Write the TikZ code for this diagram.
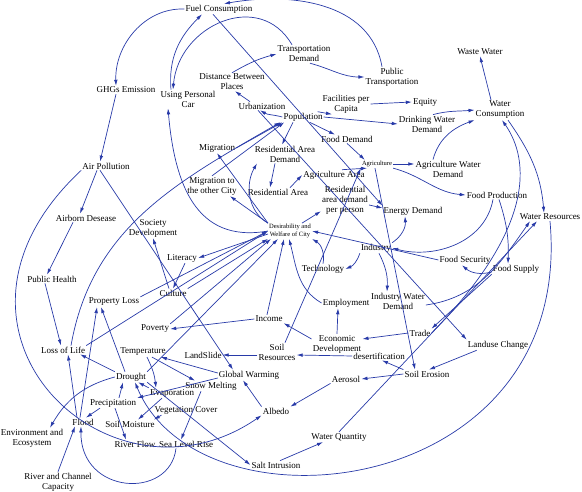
\documentclass[tikz,border=0pt]{standalone}
\usepackage{fontspec}
\setmainfont{Liberation Serif}
\usepackage{tikz}
\usetikzlibrary{arrows.meta,positioning,calc}
\definecolor{linkblue}{RGB}{40,58,168}
\tikzset{
    factor/.style={inner sep=1pt, align=center, font=\fontsize{9}{10}\selectfont},
    smallfactor/.style={inner sep=1pt, align=center, font=\fontsize{6.5}{7.5}\selectfont},
    causal/.style={-{Latex[length=6pt, width=3.6pt]}, draw=linkblue, line width=0.7pt}
}

\begin{document}
\begin{tikzpicture}[x=1pt, y=1pt]
\useasboundingbox (0,0) rectangle (582,-492);

\node[factor] (fuel) at (219,-9) {Fuel Consumption};
\node[factor] (transdem) at (304,-54) {Transportation\\Demand};
\node[factor] (pubtrans) at (392,-77) {Public\\Transportation};
\node[factor] (distance) at (232,-82) {Distance Between\\Places};
\node[factor] (ghg) at (126,-90) {GHGs Emission};
\node[factor] (car) at (188,-99) {Using Personal\\Car};
\node[factor] (urban) at (262,-106) {Urbanization};
\node[factor] (pop) at (303,-117) {Population};
\node[factor] (migr) at (217,-148) {Migration};
\node[factor] (resdem) at (285,-154) {Residential Area\\Demand};
\node[factor] (waste) at (480,-52) {Waste Water};
\node[factor] (facil) at (346,-104) {Facilities per\\Capita};
\node[factor] (equity) at (425,-102) {Equity};
\node[factor] (watcons) at (500,-110) {Water\\Consumption};
\node[factor] (drink) at (427,-124) {Drinking Water\\Demand};
\node[factor] (fooddem) at (347,-139) {Food Demand};
\node[smallfactor] (agri) at (377,-164) {Agriculture};
\node[factor] (agriwat) at (448,-169) {Agriculture Water\\Demand};
\node[factor] (airpol) at (106,-166) {Air Pollution};
\node[factor] (migrcity) at (212,-186) {Migration to\\the other City};
\node[factor] (resarea) at (278,-192) {Residential Area};
\node[factor] (agriarea) at (334,-175) {Agriculture Area};
\node[factor] (resperson) at (345,-200) {Residential\\area demand\\per person};
\node[factor] (energy) at (413,-211) {Energy Demand};
\node[factor] (foodprod) at (497,-195) {Food Production};
\node[factor] (watres) at (550,-217) {Water Resources};
\node[factor] (airborn) at (86,-218) {Airborn Desease};
\node[factor] (society) at (153,-228) {Society\\Development};
\node[smallfactor] (desire) at (290,-231) {Desirability and\\Welfare of City};
\node[factor] (industry) at (376,-248) {Industry};
\node[factor] (foodsec) at (465,-260) {Food Security};
\node[factor] (foodsup) at (516,-269) {Food Supply};
\node[factor] (literacy) at (182,-258) {Literacy};
\node[factor] (tech) at (323,-269) {Technology};
\node[factor] (health) at (52,-279) {Public Health};
\node[factor] (culture) at (173,-293) {Culture};
\node[factor] (proploss) at (114,-302) {Property Loss};
\node[factor] (employ) at (346,-303) {Employment};
\node[factor] (indwat) at (398,-301) {Industry Water\\Demand};
\node[factor] (income) at (269,-319) {Income};
\node[factor] (trade) at (420,-333) {Trade};
\node[factor] (poverty) at (155,-329) {Poverty};
\node[factor] (econ) at (337,-344) {Economic\\Development};
\node[factor] (landuse) at (498,-345) {Landuse Change};
\node[factor] (lossoflife) at (63,-350) {Loss of Life};
\node[factor] (temp) at (143,-352) {Temperature};
\node[factor] (landslide) at (203,-355) {LandSlide};
\node[factor] (soilres) at (277,-352) {Soil\\Resources};
\node[factor] (desert) at (379,-356) {desertification};
\node[factor] (erosion) at (427,-374) {Soil Erosion};
\node[factor] (drought) at (131,-377) {Drought};
\node[factor] (warming) at (249,-375) {Global Warming};
\node[factor] (snow) at (211,-386) {Snow Melting};
\node[factor] (aerosol) at (346,-379) {Aerosol};
\node[factor] (evap) at (172,-393) {Evaporation};
\node[factor] (precip) at (113,-403) {Precipitation};
\node[factor] (veg) at (186,-410) {Vegetation Cover};
\node[factor] (albedo) at (276,-411) {Albedo};
\node[factor] (flood) at (83,-422) {Flood};
\node[factor] (soilmoist) at (130,-424) {Soil Moisture};
\node[factor] (env) at (32,-438) {Environment and\\Ecosystem};
\node[factor] (river) at (135,-444) {River Flow};
\node[factor] (sealevel) at (186,-444) {Sea Level Rise};
\node[factor] (watqty) at (339,-437) {Water Quantity};
\node[factor] (salt) at (276,-465) {Salt Intrusion};
\node[factor] (rivercap) at (58,-482) {River and Channel\\Capacity};

\draw[causal] (fuel.west) to[out=178,in=92] ([xshift=-10pt]ghg.north);
\draw[causal] ([xshift=-10pt]ghg.south) -- ([xshift=-6pt]airpol.north);
\draw[causal] ([xshift=-17pt]car.north) to[out=95,in=225] ([xshift=-17pt]fuel.south);
\draw[causal] ([xshift=-12pt]transdem.north) to[out=120,in=85,looseness=1.3] ([xshift=-15pt]car.north);
\draw[causal] ([xshift=-10pt]pubtrans.north) to[out=100,in=10] ([xshift=5pt]fuel.north);
\draw[causal] ([xshift=6pt]transdem.south) to[out=-15,in=180] (pubtrans.west);
\draw[causal] (distance.north) to[out=30,in=195] (transdem.west);
\draw[causal] ([xshift=-12pt]urban.north) -- ([xshift=3pt]distance.south);
\draw[causal] ([xshift=-6pt]fuel.south) -- (energy.north west);
\draw[causal] (pop.west) to[out=165,in=-30] ([xshift=-2pt]urban.south);
\draw[causal] ([xshift=-4pt]urban.south) -- (landuse.north west);

\draw[causal] (migr.east) -- (pop.south west);
\draw[causal] (migrcity.north) -- ([xshift=2pt]pop.south west);
\draw[causal] ([xshift=8pt]lossoflife.north) to[out=80,in=210] ([xshift=-2pt]pop.south west);
\draw[causal] ([xshift=-10pt]pop.south) -- ([xshift=-3pt]resdem.north);
\draw[causal] ([xshift=-10pt]resdem.south) -- ([xshift=-8pt]resarea.north);
\draw[causal] ([xshift=12pt]resarea.north) -- (agriarea.west);
\draw[causal] ([xshift=8pt]agriarea.north) -- ([xshift=-10pt]agri.south);
\draw[causal] ([xshift=-6pt]pop.north east) -- ([xshift=-14pt]facil.south);
\draw[causal] (facil.east) -- (equity.west);
\draw[causal] (pop.east) -- (drink.west);
\draw[causal] ([xshift=-14pt]pop.south east) -- ([xshift=-12pt]fooddem.north);
\draw[causal] (fooddem.south) -- ([xshift=4pt]agri.north west);
\draw[causal] (agri.east) -- ([yshift=5pt]agriwat.west);
\draw[causal] (agri.south east) to[out=-15,in=175] (foodprod.west);

\draw[causal] ([xshift=6pt]drink.north) to[out=15,in=185] (watcons.west);
\draw[causal] ([xshift=-15pt]agriwat.north) to[out=75,in=200] (watcons.south west);
\draw[causal] ([xshift=-9pt]watcons.north) -- (waste.south);
\draw[causal] ([xshift=8pt]watcons.south) to[out=-55,in=95] ([xshift=-6pt]watres.north);
\draw[causal] (trade.east) .. controls (535,-228) and (530,-160) .. ([xshift=2pt]watcons.south);
\draw[causal] (foodsup.south west) -- (trade.north east);
\draw[causal] (watqty.north) -- ([xshift=-13pt]watres.south);
\draw[causal] ([yshift=-4pt]indwat.east) to[out=8,in=235] ([xshift=-20pt]watres.south);
\draw[causal] (watres.south) .. controls (575,-500) and (200,-540) .. ([xshift=4pt]drought.south);
\draw[causal] (drought.south east) -- (salt.west);
\draw[causal] ([xshift=4pt]salt.north) -- ([xshift=-16pt]watqty.south);

\draw[causal] (airpol.south west) .. controls (-90,-330) and (110,-520) .. (albedo.south west);
\draw[causal] (drought.west) to[out=195,in=60] ([xshift=18pt]env.north);
\draw[causal] ([xshift=-7pt]health.south) -- ([xshift=-2pt]lossoflife.north);
\draw[causal] ([xshift=-13pt]airborn.south) -- ([xshift=-5pt]health.north);
\draw[causal] ([xshift=-9pt]airpol.south) -- ([xshift=-6pt]airborn.north);
\draw[causal] ([xshift=-6pt]airpol.south) -- ([xshift=-16pt]warming.north);
\draw[causal] ([xshift=-6pt]flood.north) -- ([xshift=5pt]lossoflife.south);
\draw[causal] (drought.north west) -- ([xshift=-6pt]lossoflife.south east);
\draw[causal] ([xshift=-3pt]flood.north) -- ([xshift=-17pt]proploss.south);
\draw[causal] ([xshift=-6pt]drought.north) -- ([xshift=-13pt]proploss.south);

\draw[causal] (lossoflife.north east) -- (desire.west);
\draw[causal] (proploss.north east) -- (desire.west);
\draw[causal] (culture.north east) -- (desire.south west);
\draw[causal] (poverty.north east) -- ([xshift=3pt]desire.south west);
\draw[causal] (drought.north east) -- ([xshift=-12pt]desire.south);
\draw[causal] ([yshift=-3pt]desire.west) -- (literacy.east);
\draw[causal] ([xshift=3pt]literacy.south) -- (culture.north);
\draw[causal] ([xshift=-4pt]culture.north) -- (society.south);
\draw[causal] (desire.north west) -- (migr.south);
\draw[causal] (desire.north west) -- ([xshift=-8pt]migrcity.south east);
\draw[causal] (desire.west) to[out=190,in=-85,looseness=1.2] ([xshift=-20pt]car.south);
\draw[causal] (desire.north west) to[out=150,in=-120] ([xshift=-28pt]resdem.south);
\draw[causal] ([xshift=-10pt]desire.north east) -- ([yshift=4pt]resperson.south west);
\draw[causal] ([yshift=-5pt]resperson.east) -- ([yshift=3pt]energy.west);
\draw[causal] ([xshift=8pt]soilres.north) -- (agri.south west);
\draw[causal] ([yshift=-3pt]soilres.west) -- (landslide.east);
\draw[causal] (desert.west) -- ([yshift=-3pt]soilres.east);
\draw[causal] (erosion.north west) -- ([xshift=3pt]desert.south);
\draw[causal] (erosion.west) -- (aerosol.east);
\draw[causal] (aerosol.south west) -- (albedo.north east);
\draw[causal] ([xshift=10pt]landuse.south west) -- ([xshift=2pt]erosion.north);
\draw[causal] ([xshift=-2pt]agri.south) -- ([xshift=-12pt]erosion.north);

\draw[causal] (trade.west) -- ([yshift=5pt]econ.east);
\draw[causal] (econ.north) -- ([xshift=-8pt]employ.south);
\draw[causal] ([yshift=5pt]econ.west) -- (income.south east);
\draw[causal] (income.west) -- (poverty.east);
\draw[causal] ([xshift=-2pt]income.north) -- ([xshift=-6pt]desire.south);
\draw[causal] (employ.west) to[out=150,in=-75] ([xshift=-1pt]desire.south);
\draw[causal] (tech.north) to[bend right=35] (desire.south east);
\draw[causal] (industry.south west) to[bend left=25] (tech.east);
\draw[causal] ([xshift=3pt]industry.south) to[bend left=15] ([xshift=-11pt]indwat.north);
\draw[causal] (industry.north east) to[bend right=30] ([xshift=-8pt]energy.south);
\draw[causal] ([xshift=-4pt]foodprod.south) to[out=-100,in=-15] (industry.east);
\draw[causal] (foodsec.west) -- (desire.east);
\draw[causal] ([xshift=2pt]foodprod.south) to[bend left=10] ([xshift=-8pt]foodsup.north);
\draw[causal] ([yshift=-3pt]foodsup.west) to[out=195,in=-40] ([xshift=-3pt]foodsec.south);

\draw[causal] (albedo.north west) -- ([xshift=-6pt]warming.south);
\draw[causal] ([yshift=2pt]warming.west) -- ([xshift=-6pt]temp.south east);
\draw[causal] ([yshift=-3pt]warming.west) -- (precip.north east);
\draw[causal] ([xshift=4pt]temp.south) to[bend left=10] ([xshift=-16pt]evap.north);
\draw[causal] ([xshift=9pt]temp.south) -- ([xshift=-16pt]snow.north);
\draw[causal] (evap.north west) -- ([xshift=-9pt]drought.south east);
\draw[causal] ([xshift=6pt]precip.north) -- ([xshift=-8pt]drought.south);
\draw[causal] ([xshift=-13pt]precip.south) -- ([xshift=3pt]flood.north);
\draw[causal] ([xshift=2pt]precip.south) -- ([xshift=-9pt]river.north);
\draw[causal] ([xshift=-10pt]evap.south) -- ([xshift=8pt]soilmoist.north);
\draw[causal] ([xshift=8pt]veg.south west) -- ([xshift=-2pt]soilmoist.north east);
\draw[causal] ([xshift=-10pt]snow.south) -- ([xshift=-5pt]sealevel.north);
\draw[causal] ([xshift=-10pt]sealevel.south) .. controls (170,-500) and (80,-495) .. ([xshift=-2pt]flood.south);
\draw[causal] (rivercap.north) -- ([xshift=-8pt]flood.south);
\end{tikzpicture}
\end{document}
